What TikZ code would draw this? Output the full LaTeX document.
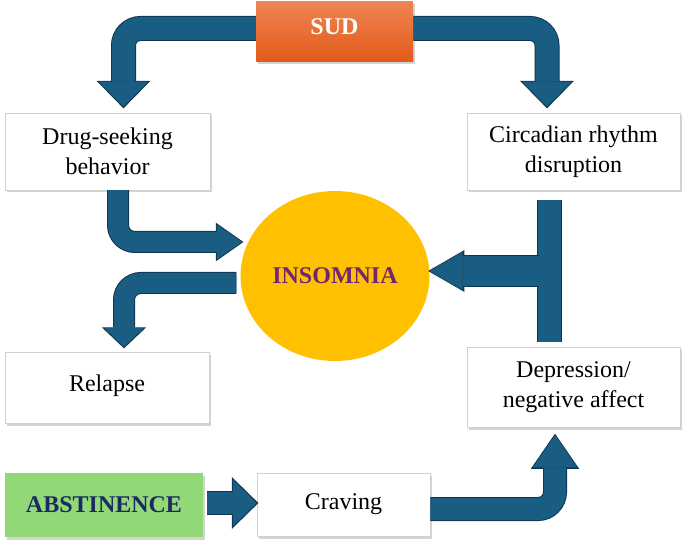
\documentclass[tikz,border=0pt]{standalone}
\usepackage{fontspec}
\setmainfont{Liberation Serif}
\usetikzlibrary{arrows.meta,shapes.geometric,shadows,calc}

\definecolor{flowblue}{HTML}{1A5D82}
\definecolor{flowedge}{HTML}{0F3650}
\definecolor{sudtop}{HTML}{EE8452}
\definecolor{sudbot}{HTML}{E25A18}
\definecolor{abstgreen}{HTML}{92D877}
\definecolor{abstink}{HTML}{1B2A60}
\definecolor{insyellow}{HTML}{FFC000}
\definecolor{insink}{HTML}{702670}

\tikzset{
  box/.style={draw=black!18, line width=0.5pt, fill=white, align=center,
    drop shadow={shadow xshift=1.5pt, shadow yshift=-2.5pt, opacity=0.35}},
  flow/.style n args={3}{line width=#1, draw=flowblue, rounded corners=17pt,
    -{Triangle[length=#3, width=#2, line width=0pt]},
    preaction={draw=flowedge, line width=#1+2pt, shorten >=-1.6pt,
      -{Triangle[length=#3, width=#2, line width=0pt, scale=1.1]}}},
  tbar/.style={line width=#1, draw=flowblue,
    preaction={draw=flowedge, line width=#1+2pt}},
}

\begin{document}
\begin{tikzpicture}[x=1pt, y=1pt, font=\fontsize{24}{30}\selectfont]
  \useasboundingbox (0,0) rectangle (685,544);

  % nodes
  \node[box, draw=none, top color=sudtop, bottom color=sudbot, text=white,
    font=\fontsize{24}{30}\selectfont\bfseries, text depth=10pt,
    minimum width=157pt, minimum height=60pt] (sud) at (334.5,512) {SUD};
  \node[box, minimum width=205pt, minimum height=77pt] (drug) at (107.5,392.5) {Drug-seeking\\behavior};
  \node[box, minimum width=213pt, minimum height=77pt] (circ) at (573.5,392.5) {Circadian rhythm\\disruption};
  \node[ellipse, fill=insyellow, text=insink, font=\fontsize{24}{30}\selectfont\bfseries,
    minimum width=189pt, minimum height=170pt] (ins) at (335,268) {INSOMNIA};
  \node[box, text depth=9pt, minimum width=204pt, minimum height=71pt] (relapse) at (107,156.5) {Relapse};
  \node[box, minimum width=213pt, minimum height=80pt] (dep) at (573.5,157) {Depression/\\negative affect};
  \node[box, draw=none, fill=abstgreen, text=abstink, font=\fontsize{24}{30}\selectfont\bfseries,
    minimum width=198pt, minimum height=64pt] (abst) at (104,39) {ABSTINENCE};
  \node[box, minimum width=173pt, minimum height=63pt] (crav) at (343.5,39.5) {Craving};

  % arrows
  \draw[flow={23pt}{49pt}{25pt}] ([yshift=3.5pt]sud.west) -| ([xshift=16pt,yshift=6pt]drug.north);
  \draw[flow={23pt}{49pt}{25pt}] ([yshift=3.5pt]sud.east) -| ([xshift=-26.5pt,yshift=6pt]circ.north);
  \draw[flow={20pt}{35pt}{25pt}] ([xshift=10.5pt]drug.south) |- ([xshift=1.5pt,yshift=34pt]ins.west);
  \draw[flow={20pt}{40pt}{19pt}] ([xshift=-4pt,yshift=-7pt]ins.west) -| ([xshift=17pt,yshift=5pt]relapse.north);

  \coordinate (ttop) at ([xshift=-24pt,yshift=-10pt]circ.south);
  \coordinate (tbot) at ([xshift=-24pt,yshift=5pt]dep.north);
  \coordinate (tjoin) at ($(ttop)!0.5!(tbot)$);
  \draw[tbar=23pt] (ttop) -- (tbot);
  \draw[flow={30pt}{38pt}{33pt}] ([xshift=-10.5pt]tjoin) -- (tjoin -| ins.east);

  \draw[flow={22pt}{47pt}{24pt}] ([xshift=4pt,yshift=2pt]abst.east) -- ([yshift=1.5pt]crav.west);
  \draw[flow={22pt}{44pt}{32pt}] ([yshift=-4.5pt]crav.east) -| ([xshift=-18.5pt,yshift=-8pt]dep.south);
\end{tikzpicture}
\end{document}
